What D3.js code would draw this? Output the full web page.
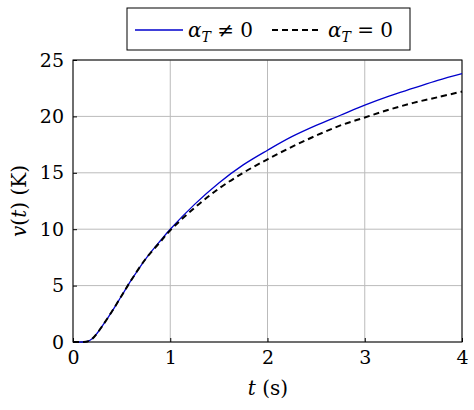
<!DOCTYPE html>
<html><head><meta charset="utf-8">
<script src="https://cdn.jsdelivr.net/npm/d3@7"></script>
<style>body{margin:0;background:#fff}</style></head>
<body><svg id="c" width="474" height="410"></svg>
<script>
const tVals=[0,0.1,0.15,0.2,0.25,0.3,0.4,0.5,0.6,0.75,0.9,1,1.25,1.5,1.75,2,2.25,2.5,2.75,3,3.25,3.5,3.75,4];
const vAlpha=[0,0,0.05,0.3,0.8,1.4,2.7,4.1,5.5,7.4,9.0,10,12.2,14.1,15.7,17.0,18.2,19.2,20.1,21.0,21.8,22.5,23.2,23.8];
const vZero=[0,0,0.05,0.3,0.8,1.4,2.7,4.1,5.5,7.4,8.9,9.9,11.9,13.6,15.0,16.2,17.3,18.3,19.2,19.9,20.6,21.2,21.7,22.2];
const xTicks=[0,1,2,3,4], yTicks=[0,5,10,15,20,25];
const svg=d3.select("#c");
const x=d3.scaleLinear().domain([0,4]).range([73,462]);
const y=d3.scaleLinear().domain([0,25]).range([342,60]);
const g=svg.append("g");
xTicks.forEach(t=>g.append("line").attr("x1",x(t)).attr("x2",x(t)).attr("y1",y(25)).attr("y2",y(0)).attr("stroke","#bbb").attr("stroke-width",1));
yTicks.forEach(t=>g.append("line").attr("y1",y(t)).attr("y2",y(t)).attr("x1",x(0)).attr("x2",x(4)).attr("stroke","#bbb").attr("stroke-width",1));
const font="'DejaVu Serif', serif";
const fmt=d3.format("d");
svg.append("g").attr("transform","translate(0,342)").call(d3.axisBottom(x).tickValues(xTicks).tickFormat(fmt).tickSize(-4).tickPadding(9).tickSizeOuter(0))
 .call(a=>{a.select(".domain").remove();a.selectAll("text").style("font-family",font).style("font-size","19px");});
svg.append("g").attr("transform","translate(73,0)").call(d3.axisLeft(y).tickValues(yTicks).tickFormat(fmt).tickSize(-4).tickPadding(9).tickSizeOuter(0))
 .call(a=>{a.select(".domain").remove();a.selectAll("text").style("font-family",font).style("font-size","19px");});
svg.append("rect").attr("x",x(0)).attr("y",y(25)).attr("width",x(4)-x(0)).attr("height",y(0)-y(25)).attr("fill","none").attr("stroke","#000");
const line=d3.line().x((d,i)=>x(tVals[i])).y(d=>y(d)).curve(d3.curveCatmullRom);
svg.append("path").datum(vAlpha).attr("d",line).attr("fill","none").attr("stroke","#0000cc").attr("stroke-width",1.3);
svg.append("path").datum(vZero).attr("d",line).attr("fill","none").attr("stroke","#000").attr("stroke-width",2).attr("stroke-dasharray","6,4");
svg.append("text").attr("x",268).attr("y",395).attr("text-anchor","middle").style("font-family",font).style("font-size","20px")
 .html('<tspan font-style="italic">t</tspan> (s)');
svg.append("text").attr("transform","translate(26,201) rotate(-90)").attr("text-anchor","middle").style("font-family",font).style("font-size","20px")
 .html('<tspan font-style="italic">v</tspan>(<tspan font-style="italic">t</tspan>) (K)');
const L=svg.append("g");
L.append("rect").attr("x",127).attr("y",8).attr("width",283).attr("height",42).attr("fill","#fff").attr("stroke","#000");
L.append("line").attr("x1",135).attr("x2",183).attr("y1",30).attr("y2",30).attr("stroke","#0000cc").attr("stroke-width",1.3);
L.append("text").attr("x",188).attr("y",37).style("font-family",font).style("font-size","20px")
 .html('<tspan font-style="italic">α</tspan><tspan font-style="italic" font-size="14px" dy="5">T</tspan><tspan dy="-5"> ≠ 0</tspan>');
L.append("line").attr("x1",272).attr("x2",322).attr("y1",30).attr("y2",30).attr("stroke","#000").attr("stroke-width",2).attr("stroke-dasharray","6,4");
L.append("text").attr("x",328).attr("y",37).style("font-family",font).style("font-size","20px")
 .html('<tspan font-style="italic">α</tspan><tspan font-style="italic" font-size="14px" dy="5">T</tspan><tspan dy="-5"> = 0</tspan>');
</script></body></html>
